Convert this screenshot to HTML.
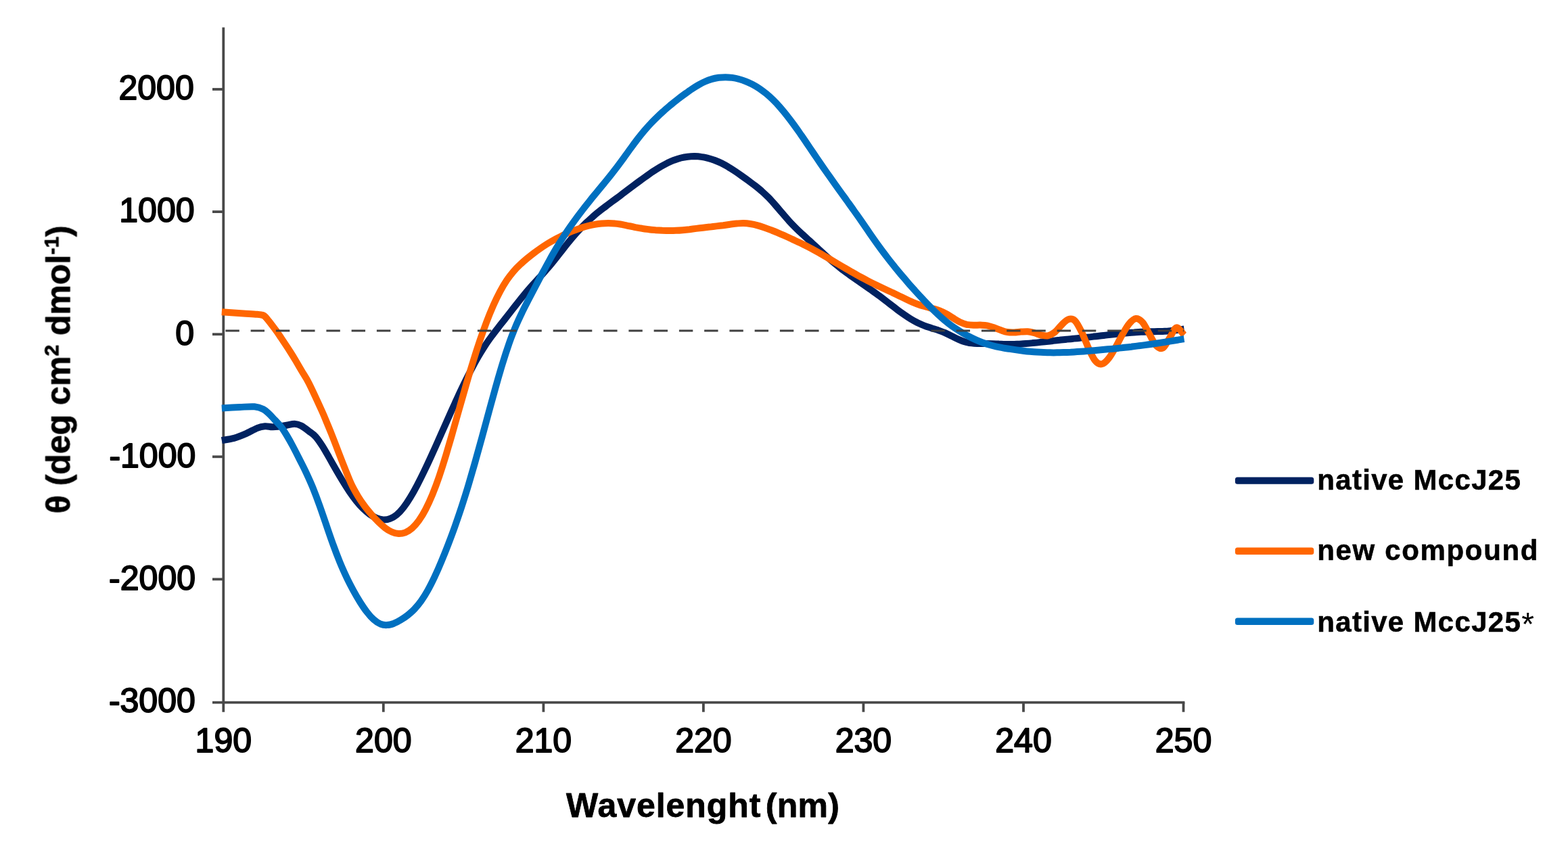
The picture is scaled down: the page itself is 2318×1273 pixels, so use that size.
<!DOCTYPE html>
<html lang="en">
<head>
<meta charset="utf-8">
<title>CD spectra</title>
<style>
html,body{margin:0;padding:0;background:#fff;}
body{width:2318px;height:1273px;overflow:hidden;}
svg{display:block;}
text{font-family:"Liberation Sans",Arial,Helvetica,sans-serif;fill:#000;stroke:#000;stroke-linejoin:round;}
</style>
</head>
<body>
<svg xmlns="http://www.w3.org/2000/svg" width="2318" height="1273" viewBox="0 0 2318 1273">
<defs><filter id="soft" x="-2%" y="-2%" width="104%" height="104%"><feGaussianBlur stdDeviation="0.7"/></filter></defs>
<rect width="2318" height="1273" fill="#fff"/>
<g filter="url(#soft)">
<g stroke="#4a4a4a" stroke-width="3.8" fill="none">
<line x1="330.3" y1="40.4" x2="330.3" y2="1052.7"/>
<line x1="314.0" y1="1038.7" x2="1751.4" y2="1038.7"/>
<line x1="314.0" y1="132.0" x2="330.3" y2="132.0"/>
<line x1="314.0" y1="313.1" x2="330.3" y2="313.1"/>
<line x1="314.0" y1="494.2" x2="330.3" y2="494.2"/>
<line x1="314.0" y1="675.3" x2="330.3" y2="675.3"/>
<line x1="314.0" y1="856.4" x2="330.3" y2="856.4"/>
<line x1="566.8" y1="1038.7" x2="566.8" y2="1052.7"/>
<line x1="803.4" y1="1038.7" x2="803.4" y2="1052.7"/>
<line x1="1039.9" y1="1038.7" x2="1039.9" y2="1052.7"/>
<line x1="1276.4" y1="1038.7" x2="1276.4" y2="1052.7"/>
<line x1="1513.0" y1="1038.7" x2="1513.0" y2="1052.7"/>
<line x1="1749.5" y1="1038.7" x2="1749.5" y2="1052.7"/>
</g>
<path d="M327.8 651.2 C330.8 650.6 340.0 649.4 345.9 647.8 C351.8 646.1 357.4 643.8 363.2 641.3 C369.0 638.8 375.8 634.6 380.5 632.8 C385.2 630.9 388.1 630.5 391.7 630.2 C395.3 629.9 398.9 631.1 402.1 631.2 C405.3 631.3 407.1 631.2 410.7 630.8 C414.3 630.4 419.6 629.4 423.7 628.7 C427.8 628.0 431.9 626.6 435.5 626.7 C439.1 626.8 441.8 627.7 445.3 629.5 C448.8 631.3 453.1 634.8 456.6 637.5 C460.2 640.2 463.3 641.9 466.6 645.6 C469.9 649.3 473.3 654.4 476.6 659.5 C479.9 664.7 483.3 670.8 486.6 676.6 C489.9 682.4 493.3 688.5 496.6 694.3 C499.9 700.0 503.3 705.8 506.6 711.3 C509.9 716.7 513.3 722.1 516.6 727.0 C519.9 731.8 523.3 736.5 526.6 740.6 C529.9 744.8 533.3 748.5 536.6 751.8 C539.9 755.1 543.3 758.0 546.6 760.4 C549.9 762.7 553.3 764.7 556.6 766.0 C559.9 767.3 563.3 768.2 566.6 768.4 C569.9 768.5 573.3 768.2 576.6 766.9 C579.9 765.7 583.3 763.8 586.6 761.0 C589.9 758.2 593.3 754.5 596.6 750.2 C599.9 746.0 603.3 740.9 606.6 735.4 C609.9 730.0 613.3 723.9 616.6 717.6 C619.9 711.3 623.3 704.6 626.6 697.7 C629.9 690.9 633.3 683.7 636.6 676.4 C639.9 669.1 643.3 661.7 646.6 654.2 C649.9 646.8 653.3 639.2 656.6 631.7 C659.9 624.2 663.3 616.7 666.6 609.3 C669.9 601.9 673.3 594.5 676.6 587.4 C679.9 580.2 683.3 573.1 686.6 566.3 C689.9 559.5 693.3 552.8 696.6 546.5 C699.9 540.1 703.3 533.9 706.6 528.1 C709.9 522.4 713.3 516.9 716.6 511.8 C719.9 506.6 723.3 501.9 726.6 497.4 C729.9 492.8 733.3 488.5 736.6 484.3 C739.9 480.0 743.3 475.9 746.6 471.6 C749.9 467.4 753.3 463.1 756.6 458.8 C759.9 454.6 763.3 450.2 766.6 446.0 C769.9 441.8 773.3 437.6 776.6 433.6 C779.9 429.7 783.3 425.8 786.6 422.1 C789.9 418.3 793.3 414.8 796.6 411.1 C799.9 407.5 803.3 403.9 806.6 400.1 C809.9 396.3 813.3 392.4 816.6 388.3 C819.9 384.3 823.3 380.0 826.6 375.7 C829.9 371.5 833.3 367.2 836.6 363.0 C839.9 358.8 843.3 354.7 846.6 350.8 C849.9 346.9 853.3 343.1 856.6 339.6 C859.9 336.0 863.3 332.7 866.6 329.4 C869.9 326.2 873.3 323.2 876.6 320.2 C879.9 317.3 883.3 314.6 886.6 311.9 C889.9 309.3 893.3 306.8 896.6 304.2 C899.9 301.7 903.3 299.3 906.6 296.8 C909.9 294.3 913.3 291.9 916.6 289.4 C919.9 286.9 923.3 284.3 926.6 281.8 C929.9 279.3 933.3 276.8 936.6 274.3 C939.9 271.8 943.3 269.3 946.6 266.9 C949.9 264.4 953.3 262.0 956.6 259.6 C959.9 257.3 963.3 254.9 966.6 252.8 C969.9 250.6 973.3 248.5 976.6 246.5 C979.9 244.6 983.3 242.8 986.6 241.1 C989.9 239.5 993.3 238.0 996.6 236.7 C999.9 235.5 1003.3 234.4 1006.6 233.5 C1009.9 232.7 1013.3 232.1 1016.6 231.7 C1019.9 231.3 1023.3 231.1 1026.6 231.1 C1029.9 231.2 1033.3 231.4 1036.6 231.9 C1039.9 232.3 1043.3 233.0 1046.6 233.9 C1049.9 234.7 1053.3 235.8 1056.6 237.0 C1059.9 238.3 1063.3 239.7 1066.6 241.3 C1069.9 243.0 1073.3 244.8 1076.6 246.8 C1079.9 248.7 1083.3 250.9 1086.6 253.1 C1089.9 255.3 1093.3 257.7 1096.6 260.1 C1099.9 262.4 1103.3 264.8 1106.6 267.3 C1109.9 269.8 1113.3 272.2 1116.6 274.8 C1119.9 277.4 1123.3 280.1 1126.6 283.1 C1129.9 286.0 1133.3 289.2 1136.6 292.6 C1139.9 296.0 1143.3 299.8 1146.6 303.6 C1149.9 307.4 1153.3 311.5 1156.6 315.3 C1159.9 319.2 1163.3 323.2 1166.6 326.8 C1169.9 330.5 1173.3 333.9 1176.6 337.2 C1179.9 340.6 1183.3 343.6 1186.6 346.7 C1189.9 349.8 1193.3 352.8 1196.6 355.8 C1199.9 358.8 1203.3 361.9 1206.6 364.9 C1209.9 368.0 1213.3 371.1 1216.6 374.2 C1219.9 377.2 1223.3 380.3 1226.6 383.2 C1229.9 386.1 1233.3 389.0 1236.6 391.7 C1239.9 394.4 1243.3 397.0 1246.6 399.6 C1249.9 402.1 1253.3 404.5 1256.6 406.9 C1259.9 409.3 1263.3 411.6 1266.6 414.0 C1269.9 416.3 1273.3 418.6 1276.6 420.9 C1279.9 423.2 1283.3 425.5 1286.6 427.8 C1289.9 430.2 1293.3 432.5 1296.6 435.0 C1299.9 437.4 1303.3 440.0 1306.6 442.5 C1309.9 445.1 1313.3 447.7 1316.6 450.3 C1319.9 452.8 1323.3 455.4 1326.6 457.9 C1329.9 460.4 1333.3 462.8 1336.6 465.1 C1339.9 467.4 1343.3 469.7 1346.6 471.7 C1349.9 473.7 1353.3 475.6 1356.6 477.3 C1359.9 478.9 1363.3 480.4 1366.6 481.6 C1369.9 482.9 1373.3 483.9 1376.6 485.0 C1379.9 486.1 1383.3 487.0 1386.6 488.1 C1389.9 489.3 1393.3 490.5 1396.6 491.9 C1399.9 493.4 1403.3 495.1 1406.6 496.8 C1409.9 498.4 1413.3 500.2 1416.6 501.6 C1419.9 503.1 1423.3 504.5 1426.6 505.5 C1429.9 506.4 1433.3 507.0 1436.6 507.4 C1439.9 507.9 1443.3 507.9 1446.6 508.0 C1449.9 508.1 1453.3 508.0 1456.6 508.0 C1459.9 508.0 1463.3 508.1 1466.6 508.2 C1469.9 508.3 1473.3 508.4 1476.6 508.6 C1479.9 508.7 1483.3 508.9 1486.6 508.9 C1489.9 509.0 1493.3 509.1 1496.6 509.0 C1499.9 509.0 1503.3 508.8 1506.6 508.7 C1509.9 508.5 1513.3 508.3 1516.6 508.0 C1519.9 507.8 1523.3 507.5 1526.6 507.1 C1529.9 506.8 1533.3 506.5 1536.6 506.1 C1539.9 505.7 1543.3 505.4 1546.6 505.0 C1549.9 504.6 1553.3 504.2 1556.6 503.9 C1559.9 503.5 1563.3 503.1 1566.6 502.8 C1569.9 502.4 1573.3 502.1 1576.6 501.7 C1579.9 501.4 1583.3 501.1 1586.6 500.7 C1589.9 500.4 1593.3 500.1 1596.6 499.7 C1599.9 499.4 1603.3 499.1 1606.6 498.7 C1609.9 498.4 1613.3 498.0 1616.6 497.6 C1619.9 497.3 1623.3 496.9 1626.6 496.5 C1629.9 496.1 1633.3 495.8 1636.6 495.4 C1639.9 495.0 1643.3 494.6 1646.6 494.2 C1649.9 493.9 1653.3 493.5 1656.6 493.1 C1659.9 492.8 1663.3 492.5 1666.6 492.2 C1669.9 491.9 1673.3 491.6 1676.6 491.4 C1679.9 491.1 1683.3 491.0 1686.6 490.8 C1689.9 490.6 1693.3 490.5 1696.6 490.4 C1699.9 490.3 1703.3 490.3 1706.6 490.2 C1709.9 490.1 1713.3 490.0 1716.6 489.9 C1719.9 489.7 1723.3 489.6 1726.6 489.4 C1729.9 489.1 1732.6 489.0 1736.6 488.5 C1740.6 488.0 1748.2 486.7 1750.5 486.4" fill="none" stroke="#002060" stroke-width="10.0" stroke-linejoin="round"/>
<path d="M327.8 461.2 C333.2 461.6 351.3 462.8 360.0 463.4 C368.7 464.0 375.6 464.4 380.0 464.8 C384.4 465.2 384.8 465.3 386.5 465.6 C388.2 465.9 388.8 465.9 390.0 466.6 C391.2 467.3 392.3 468.5 393.5 469.8 C394.7 471.1 395.5 472.3 397.0 474.2 C398.5 476.1 400.6 478.8 402.5 481.3 C404.4 483.8 406.3 486.3 408.5 489.3 C410.7 492.3 413.2 496.1 415.5 499.5 C417.8 502.9 420.2 506.6 422.5 510.0 C424.8 513.4 426.6 516.2 429.0 520.0 C431.4 523.8 434.1 528.1 437.0 533.0 C439.9 537.9 443.2 543.7 446.5 549.3 C449.8 554.9 451.7 556.8 456.6 566.5 C461.5 576.2 471.3 597.6 475.7 607.3 C480.1 617.0 480.6 618.8 483.0 624.5 C485.4 630.2 487.7 635.7 490.0 641.5 C492.3 647.3 494.8 653.7 497.0 659.5 C499.2 665.3 501.2 670.5 503.5 676.5 C505.8 682.5 508.4 689.0 511.0 695.5 C513.6 702.0 516.2 709.0 519.2 715.4 C522.2 721.8 525.9 728.2 529.2 733.7 C532.5 739.2 535.9 744.0 539.2 748.5 C542.5 753.0 545.9 756.9 549.2 760.7 C552.5 764.6 555.9 768.2 559.2 771.5 C562.5 774.7 565.9 777.9 569.2 780.4 C572.5 782.9 575.9 785.1 579.2 786.5 C582.5 788.0 585.9 789.0 589.2 789.1 C592.5 789.2 595.9 788.7 599.2 787.4 C602.5 786.1 605.9 784.0 609.2 781.1 C612.5 778.1 615.9 774.3 619.2 769.7 C622.5 765.0 625.9 759.5 629.2 753.1 C632.5 746.7 635.9 739.4 639.2 731.4 C642.5 723.3 645.9 714.3 649.2 704.6 C652.5 694.9 655.9 684.2 659.2 673.3 C662.5 662.3 665.9 650.6 669.2 639.0 C672.5 627.3 675.9 615.2 679.2 603.5 C682.5 591.7 685.9 579.9 689.2 568.5 C692.5 557.1 695.9 545.9 699.2 535.2 C702.5 524.5 705.9 514.0 709.2 504.2 C712.5 494.4 715.9 485.0 719.2 476.2 C722.5 467.5 725.9 459.3 729.2 451.8 C732.5 444.3 735.9 437.3 739.2 431.1 C742.5 424.8 745.9 419.3 749.2 414.3 C752.5 409.3 755.9 405.1 759.2 401.2 C762.5 397.3 765.9 394.0 769.2 390.9 C772.5 387.7 775.9 384.9 779.2 382.1 C782.5 379.4 785.9 376.7 789.2 374.2 C792.5 371.7 795.9 369.3 799.2 367.0 C802.5 364.7 805.9 362.5 809.2 360.4 C812.5 358.4 815.9 356.4 819.2 354.6 C822.5 352.7 825.9 351.0 829.2 349.4 C832.5 347.7 835.9 346.2 839.2 344.7 C842.5 343.2 845.9 341.8 849.2 340.6 C852.5 339.3 855.9 338.0 859.2 336.9 C862.5 335.9 865.9 334.9 869.2 334.0 C872.5 333.1 875.9 332.4 879.2 331.8 C882.5 331.2 885.9 330.7 889.2 330.4 C892.5 330.1 895.9 329.9 899.2 329.9 C902.5 329.9 905.9 330.1 909.2 330.5 C912.5 330.8 915.9 331.4 919.2 331.9 C922.5 332.5 925.9 333.3 929.2 334.0 C932.5 334.6 935.9 335.4 939.2 336.1 C942.5 336.7 945.9 337.3 949.2 337.8 C952.5 338.4 955.9 338.8 959.2 339.2 C962.5 339.6 965.9 339.9 969.2 340.2 C972.5 340.4 975.9 340.6 979.2 340.8 C982.5 340.9 985.9 341.0 989.2 341.0 C992.5 341.0 995.9 341.0 999.2 340.8 C1002.5 340.7 1005.9 340.5 1009.2 340.2 C1012.5 339.9 1015.9 339.5 1019.2 339.2 C1022.5 338.8 1025.9 338.3 1029.2 337.9 C1032.5 337.5 1035.9 337.1 1039.2 336.7 C1042.5 336.3 1045.9 335.9 1049.2 335.6 C1052.5 335.2 1055.9 334.8 1059.2 334.4 C1062.5 334.0 1065.9 333.6 1069.2 333.2 C1072.5 332.7 1075.9 332.2 1079.2 331.7 C1082.5 331.3 1085.9 330.8 1089.2 330.5 C1092.5 330.3 1095.9 330.0 1099.2 330.1 C1102.5 330.2 1105.9 330.5 1109.2 331.0 C1112.5 331.5 1115.9 332.2 1119.2 333.1 C1122.5 334.0 1125.9 335.1 1129.2 336.2 C1132.5 337.3 1135.9 338.6 1139.2 339.9 C1142.5 341.2 1145.9 342.5 1149.2 343.9 C1152.5 345.3 1155.9 346.8 1159.2 348.2 C1162.5 349.7 1165.9 351.2 1169.2 352.8 C1172.5 354.3 1175.9 355.8 1179.2 357.4 C1182.5 359.0 1185.9 360.6 1189.2 362.3 C1192.5 363.9 1195.9 365.7 1199.2 367.4 C1202.5 369.2 1205.9 371.1 1209.2 372.9 C1212.5 374.8 1215.9 376.7 1219.2 378.7 C1222.5 380.6 1225.9 382.6 1229.2 384.6 C1232.5 386.6 1235.9 388.6 1239.2 390.5 C1242.5 392.5 1245.9 394.5 1249.2 396.4 C1252.5 398.4 1255.9 400.3 1259.2 402.2 C1262.5 404.1 1265.9 406.0 1269.2 407.8 C1272.5 409.6 1275.9 411.4 1279.2 413.2 C1282.5 415.0 1285.9 416.7 1289.2 418.4 C1292.5 420.1 1295.9 421.7 1299.2 423.3 C1302.5 424.9 1305.9 426.5 1309.2 428.0 C1312.5 429.6 1315.9 431.1 1319.2 432.6 C1322.5 434.2 1325.9 435.8 1329.2 437.4 C1332.5 439.0 1335.9 440.6 1339.2 442.2 C1342.5 443.8 1345.9 445.4 1349.2 446.9 C1352.5 448.3 1355.9 449.7 1359.2 450.8 C1362.5 452.0 1365.9 452.8 1369.2 453.8 C1372.5 454.7 1375.9 455.3 1379.2 456.2 C1382.5 457.2 1385.9 458.1 1389.2 459.4 C1392.5 460.7 1395.9 462.4 1399.2 464.2 C1402.5 466.1 1405.9 468.4 1409.2 470.4 C1412.5 472.4 1415.9 474.6 1419.2 476.2 C1422.5 477.7 1425.9 479.0 1429.2 479.8 C1432.5 480.5 1435.9 480.6 1439.2 480.7 C1442.5 480.9 1445.9 480.5 1449.2 480.6 C1452.5 480.8 1455.9 480.8 1459.2 481.4 C1462.5 482.1 1465.9 483.2 1469.2 484.3 C1472.5 485.5 1475.9 487.0 1479.2 488.1 C1482.5 489.2 1485.9 490.5 1489.2 491.0 C1492.5 491.6 1495.9 491.6 1499.2 491.5 C1502.5 491.5 1505.9 490.8 1509.2 490.6 C1512.5 490.4 1515.9 490.0 1519.2 490.2 C1522.5 490.5 1525.9 491.4 1529.2 492.2 C1532.5 493.1 1535.9 494.8 1539.2 495.5 C1542.5 496.2 1545.9 497.1 1549.2 496.4 C1552.5 495.7 1555.9 493.9 1559.2 491.3 C1562.5 488.6 1565.9 483.8 1569.2 480.6 C1572.5 477.4 1575.9 473.2 1579.2 472.2 C1582.5 471.1 1585.9 471.1 1589.2 474.3 C1592.5 477.5 1595.9 484.6 1599.2 491.3 C1602.5 498.1 1605.9 507.7 1609.2 514.8 C1612.5 521.8 1615.9 529.7 1619.2 533.6 C1622.5 537.5 1625.9 538.9 1629.2 538.2 C1632.5 537.6 1635.9 533.9 1639.2 529.7 C1642.5 525.6 1645.9 519.3 1649.2 513.4 C1652.5 507.6 1655.9 500.4 1659.2 494.6 C1662.5 488.8 1665.9 482.6 1669.2 478.7 C1672.5 474.8 1675.9 471.3 1679.2 471.0 C1682.5 470.7 1685.9 472.9 1689.2 476.8 C1692.5 480.6 1695.9 488.4 1699.2 494.1 C1702.5 499.9 1705.9 507.7 1709.2 511.0 C1712.5 514.4 1715.9 516.4 1719.2 514.5 C1722.5 512.5 1725.9 504.5 1729.2 499.5 C1732.5 494.5 1735.7 485.1 1739.2 484.4 C1742.8 483.8 1748.6 493.7 1750.5 495.5" fill="none" stroke="#ff6600" stroke-width="10.0" stroke-linejoin="round"/>
<path d="M327.8 603.5 C332.3 603.2 346.5 602.4 354.6 602.0 C362.7 601.6 370.4 600.8 376.2 601.3 C381.9 601.8 385.5 603.2 389.1 605.0 C392.7 606.8 394.9 609.2 397.8 611.9 C400.7 614.6 403.4 617.8 406.4 621.0 C409.3 624.2 412.6 627.3 415.5 631.0 C418.4 634.7 420.9 638.7 423.7 643.4 C426.5 648.1 429.4 653.2 432.5 659.0 C435.6 664.9 439.2 671.9 442.5 678.5 C445.8 685.1 449.2 691.5 452.5 698.6 C455.8 705.7 459.2 713.0 462.5 721.2 C465.8 729.4 469.2 738.4 472.5 747.6 C475.8 756.8 479.2 766.9 482.5 776.5 C485.8 786.2 489.2 796.2 492.5 805.3 C495.8 814.5 499.2 823.3 502.5 831.4 C505.8 839.5 509.2 846.9 512.5 853.9 C515.8 860.9 519.2 867.3 522.5 873.4 C525.8 879.5 529.2 885.2 532.5 890.5 C535.8 895.7 539.2 900.8 542.5 905.0 C545.8 909.3 549.2 913.2 552.5 916.1 C555.8 919.1 559.2 921.3 562.5 922.6 C565.8 924.0 569.2 924.3 572.5 924.1 C575.8 924.0 579.2 922.9 582.5 921.7 C585.8 920.4 589.2 918.5 592.5 916.5 C595.8 914.5 599.2 912.3 602.5 909.7 C605.8 907.0 609.2 904.2 612.5 900.7 C615.8 897.2 619.2 893.3 622.5 888.6 C625.8 883.9 629.2 878.6 632.5 872.6 C635.8 866.7 639.2 859.9 642.5 852.9 C645.8 845.8 649.2 838.1 652.5 830.1 C655.8 822.2 659.2 813.8 662.5 805.2 C665.8 796.6 669.2 787.6 672.5 778.3 C675.8 768.9 679.2 759.2 682.5 749.0 C685.8 738.8 689.2 728.2 692.5 717.1 C695.8 706.1 699.2 694.4 702.5 682.7 C705.8 670.9 709.2 658.7 712.5 646.6 C715.8 634.4 719.2 622.0 722.5 609.7 C725.8 597.5 729.2 585.1 732.5 573.3 C735.8 561.5 739.2 549.7 742.5 538.9 C745.8 528.0 749.2 517.5 752.5 508.1 C755.8 498.6 759.2 490.2 762.5 482.2 C765.8 474.3 769.2 467.3 772.5 460.4 C775.8 453.5 779.2 447.3 782.5 440.8 C785.8 434.4 789.2 428.1 792.5 421.7 C795.8 415.4 799.2 409.0 802.5 402.7 C805.8 396.5 809.2 390.3 812.5 384.3 C815.8 378.3 819.2 372.5 822.5 366.9 C825.8 361.4 829.2 356.0 832.5 350.9 C835.8 345.7 839.2 340.7 842.5 335.9 C845.8 331.1 849.2 326.5 852.5 321.9 C855.8 317.4 859.2 313.0 862.5 308.7 C865.8 304.4 869.2 300.2 872.5 296.1 C875.8 291.9 879.2 287.9 882.5 283.8 C885.8 279.7 889.2 275.7 892.5 271.7 C895.8 267.6 899.2 263.5 902.5 259.3 C905.8 255.1 909.2 250.9 912.5 246.5 C915.8 242.1 919.2 237.5 922.5 233.0 C925.8 228.4 929.2 223.6 932.5 219.1 C935.8 214.5 939.2 209.9 942.5 205.6 C945.8 201.3 949.2 197.1 952.5 193.2 C955.8 189.3 959.2 185.6 962.5 182.1 C965.8 178.6 969.2 175.3 972.5 172.1 C975.8 168.9 979.2 165.9 982.5 162.9 C985.8 160.0 989.2 157.2 992.5 154.4 C995.8 151.7 999.2 149.0 1002.5 146.4 C1005.8 143.8 1009.2 141.3 1012.5 138.9 C1015.8 136.5 1019.2 134.0 1022.5 131.8 C1025.8 129.6 1029.2 127.5 1032.5 125.6 C1035.8 123.7 1039.2 121.9 1042.5 120.5 C1045.8 119.0 1049.2 117.8 1052.5 116.9 C1055.8 115.9 1059.2 115.3 1062.5 114.8 C1065.8 114.4 1069.2 114.2 1072.5 114.2 C1075.8 114.2 1079.2 114.5 1082.5 114.9 C1085.8 115.4 1089.2 116.1 1092.5 117.0 C1095.8 117.8 1099.2 119.0 1102.5 120.3 C1105.8 121.6 1109.2 123.1 1112.5 124.9 C1115.8 126.7 1119.2 128.6 1122.5 130.8 C1125.8 133.1 1129.2 135.5 1132.5 138.3 C1135.8 141.0 1139.2 144.0 1142.5 147.3 C1145.8 150.5 1149.2 154.1 1152.5 157.8 C1155.8 161.6 1159.2 165.6 1162.5 169.8 C1165.8 174.0 1169.2 178.4 1172.5 183.0 C1175.8 187.5 1179.2 192.3 1182.5 197.0 C1185.8 201.8 1189.2 206.7 1192.5 211.6 C1195.8 216.5 1199.2 221.5 1202.5 226.4 C1205.8 231.3 1209.2 236.2 1212.5 241.1 C1215.8 245.9 1219.2 250.7 1222.5 255.5 C1225.8 260.2 1229.2 265.0 1232.5 269.6 C1235.8 274.3 1239.2 279.0 1242.5 283.6 C1245.8 288.3 1249.2 292.8 1252.5 297.5 C1255.8 302.1 1259.2 306.8 1262.5 311.5 C1265.8 316.2 1269.2 320.9 1272.5 325.7 C1275.8 330.5 1279.2 335.4 1282.5 340.2 C1285.8 345.0 1289.2 349.9 1292.5 354.6 C1295.8 359.3 1299.2 364.0 1302.5 368.5 C1305.8 373.0 1309.2 377.4 1312.5 381.7 C1315.8 386.0 1319.2 390.2 1322.5 394.3 C1325.8 398.5 1329.2 402.5 1332.5 406.5 C1335.8 410.4 1339.2 414.3 1342.5 418.2 C1345.8 422.0 1349.2 425.8 1352.5 429.5 C1355.8 433.2 1359.2 436.9 1362.5 440.4 C1365.8 444.0 1369.2 447.6 1372.5 451.0 C1375.8 454.4 1379.2 457.8 1382.5 461.0 C1385.8 464.2 1389.2 467.3 1392.5 470.2 C1395.8 473.1 1399.2 475.9 1402.5 478.4 C1405.8 481.0 1409.2 483.4 1412.5 485.7 C1415.8 487.9 1419.2 490.0 1422.5 492.0 C1425.8 494.0 1429.2 495.8 1432.5 497.5 C1435.8 499.3 1439.2 500.9 1442.5 502.4 C1445.8 503.9 1449.2 505.3 1452.5 506.5 C1455.8 507.7 1459.2 508.8 1462.5 509.8 C1465.8 510.8 1469.2 511.6 1472.5 512.3 C1475.8 513.1 1479.2 513.7 1482.5 514.3 C1485.8 514.9 1489.2 515.4 1492.5 515.9 C1495.8 516.4 1499.2 516.9 1502.5 517.4 C1505.8 517.8 1509.2 518.3 1512.5 518.7 C1515.8 519.1 1519.2 519.5 1522.5 519.8 C1525.8 520.1 1529.2 520.4 1532.5 520.6 C1535.8 520.8 1539.2 521.0 1542.5 521.1 C1545.8 521.2 1549.2 521.3 1552.5 521.3 C1555.8 521.4 1559.2 521.4 1562.5 521.3 C1565.8 521.3 1569.2 521.2 1572.5 521.1 C1575.8 521.0 1579.2 520.8 1582.5 520.7 C1585.8 520.5 1589.2 520.3 1592.5 520.1 C1595.8 519.9 1599.2 519.6 1602.5 519.4 C1605.8 519.1 1609.2 518.9 1612.5 518.6 C1615.8 518.3 1619.2 518.0 1622.5 517.7 C1625.8 517.4 1629.2 517.1 1632.5 516.8 C1635.8 516.5 1639.2 516.2 1642.5 515.9 C1645.8 515.6 1649.2 515.2 1652.5 514.9 C1655.8 514.5 1659.2 514.2 1662.5 513.8 C1665.8 513.4 1669.2 513.0 1672.5 512.7 C1675.8 512.3 1679.2 511.9 1682.5 511.4 C1685.8 511.0 1689.2 510.6 1692.5 510.1 C1695.8 509.7 1699.2 509.2 1702.5 508.7 C1705.8 508.2 1709.2 507.7 1712.5 507.2 C1715.8 506.7 1719.2 506.2 1722.5 505.7 C1725.8 505.2 1729.2 504.6 1732.5 504.1 C1735.8 503.5 1739.5 502.9 1742.5 502.4 C1745.5 501.9 1749.2 501.2 1750.5 501.0" fill="none" stroke="#0070c0" stroke-width="10.0" stroke-linejoin="round"/>
<line x1="333.4" y1="489.0" x2="1750.0" y2="489.0" stroke="#3f3f3f" stroke-width="3.2" stroke-dasharray="20.4 16.85"/>
<rect x="1825.9" y="705.4" width="116.4" height="10.3" rx="3.5" fill="#002060"/>
<rect x="1825.9" y="809.6" width="116.4" height="10.3" rx="3.5" fill="#ff6600"/>
<rect x="1825.9" y="913.6" width="116.4" height="10.3" rx="3.5" fill="#0070c0"/>
<text x="286.7" y="146.6" font-size="50.0" stroke-width="1.90" text-anchor="end">2000</text>
<text x="287.5" y="328.3" font-size="50.0" stroke-width="1.90" text-anchor="end">1000</text>
<text x="287.0" y="509.5" font-size="50.0" stroke-width="1.90" text-anchor="end">0</text>
<text x="289.3" y="690.6" font-size="50.0" stroke-width="1.90" text-anchor="end">-1000</text>
<text x="289.0" y="871.7" font-size="50.0" stroke-width="1.90" text-anchor="end">-2000</text>
<text x="288.8" y="1053.3" font-size="50.0" stroke-width="1.90" text-anchor="end">-3000</text>
<text x="330.3" y="1112.3" font-size="50.0" stroke-width="1.90" text-anchor="middle">190</text>
<text x="566.8" y="1112.3" font-size="50.0" stroke-width="1.90" text-anchor="middle">200</text>
<text x="803.4" y="1112.3" font-size="50.0" stroke-width="1.90" text-anchor="middle">210</text>
<text x="1039.9" y="1112.3" font-size="50.0" stroke-width="1.90" text-anchor="middle">220</text>
<text x="1276.4" y="1112.3" font-size="50.0" stroke-width="1.90" text-anchor="middle">230</text>
<text x="1513.0" y="1112.3" font-size="50.0" stroke-width="1.90" text-anchor="middle">240</text>
<text x="1749.5" y="1112.3" font-size="50.0" stroke-width="1.90" text-anchor="middle">250</text>
<text x="837.1" y="1208.2" font-size="50.0" stroke-width="0.80" font-weight="bold"><tspan letter-spacing="0.95" word-spacing="-8.4">Wavelenght </tspan><tspan letter-spacing="0.3">(nm)</tspan></text>
<text x="103.5" y="546.2" font-size="50.0" stroke-width="0.80" font-weight="bold" text-anchor="middle" transform="rotate(-90 103.5 546.2)">θ (deg cm<tspan font-size="30" dy="-17">2</tspan><tspan dy="17"> dmol</tspan><tspan font-size="30" dy="-17">-1</tspan><tspan dy="17">)</tspan></text>
<text x="1947.3" y="724.0" font-size="42.0" stroke-width="0.60" font-weight="bold" letter-spacing="1.31">native MccJ25</text>
<text x="1947.3" y="827.8" font-size="42.0" stroke-width="0.60" font-weight="bold" letter-spacing="1.65">new compound</text>
<text x="1947.3" y="934.0" font-size="42.0" stroke-width="0.60" font-weight="bold" letter-spacing="1.31">native MccJ25<tspan font-weight="normal" stroke-width="0" font-size="48" dy="5">*</tspan></text>
</g>
</svg>
</body>
</html>
